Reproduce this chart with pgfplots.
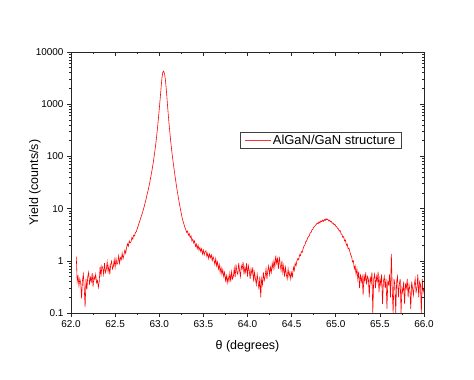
\documentclass[border=0pt]{standalone}
\usepackage{pgfplots}
\pgfplotsset{compat=1.18}
\usepackage{fontspec}
\setmainfont{Liberation Sans}
\pgfplotsset{
  every axis/.append style={
    scale only axis, width=353bp, height=261bp,
    xmin=62, xmax=66, ymin=0.1, ymax=10000,
    axis line style={line width=0.8pt, black!85},
    every tick/.style={black!85, line width=0.6pt},
    major tick length=4bp, minor tick length=2.2bp,
    xtick={62,62.5,...,66}, minor x tick num=1,
    ytick={0.1,1,10,100,1000,10000},
    /pgf/number format/assume math mode=true,
    tick label style={font=\fontsize{10}{12}\selectfont},
  }
}
\begin{document}
\begin{tikzpicture}
\begin{axis}[ymode=log,
  tick align=outside,
  xtick pos=bottom, ytick pos=left,
  xticklabel style={/pgf/number format/fixed, /pgf/number format/fixed zerofill, /pgf/number format/precision=1},
  yticklabels={0.1,1,10,100,1000,10000},
  xlabel={θ (degrees)}, ylabel={Yield (counts/s)},
  label style={font=\fontsize{12.5}{14}\selectfont},
  xlabel style={at={(axis description cs:0.5,0)}, anchor=center, yshift=-33.5bp},
  ylabel style={at={(axis description cs:0,0.5)}, anchor=center, yshift=36bp},
  legend style={at={(0.479,0.693)}, anchor=north west, draw=black!75, line width=0.6pt,
    font=\fontsize{13}{14}\selectfont, inner xsep=4bp, inner ysep=0.5bp, row sep=0pt},
  legend cell align=left,
  legend image code/.code={\draw[red!80!white, line width=0.5pt] (2bp,0bp) -- (28bp,0bp);},
]
\addplot[red, line width=0.6pt] coordinates {
(62.06,1.2) (62.07,0.4) (62.08,0.5) (62.09,0.33) (62.10,0.45) (62.11,0.38) (62.12,0.19) (62.13,0.42) (62.14,0.55) (62.15,0.3)
(62.16,0.13) (62.17,0.45) (62.18,0.28) (62.19,0.5) (62.20,0.6) (62.21,0.35) (62.22,0.48) (62.23,0.4) (62.24,0.58) (62.25,0.32)
(62.26,0.5) (62.27,0.44) (62.28,0.55) (62.29,0.38) (62.30,0.42) (62.31,0.31) (62.32,0.4) (62.33,0.78) (62.34,0.5) (62.35,0.8)
(62.36,0.72) (62.37,0.55) (62.38,0.9) (62.39,0.6) (62.40,0.68) (62.41,0.95) (62.42,0.62) (62.43,0.8) (62.44,0.55) (62.45,0.85)
(62.46,0.98) (62.47,0.7) (62.48,0.78) (62.49,1.05) (62.50,0.75) (62.51,1.1) (62.52,0.85) (62.53,0.92) (62.54,1.25) (62.55,0.9)
(62.56,1.15) (62.57,1.05) (62.58,1.4) (62.59,1.1) (62.60,1.3) (62.61,1.6) (62.62,1.4) (62.63,1.8) (62.64,2.1) (62.65,1.9)
(62.66,2.4) (62.67,2.2) (62.68,2.3) (62.69,2.8) (62.70,2.6) (62.71,3.1) (62.72,3.0) (62.73,3.5) (62.74,3.6) (62.75,4.1)
(62.76,4.6) (62.77,5.2) (62.78,5.8) (62.79,6.6) (62.80,7.4) (62.81,8.4) (62.82,9.6) (62.83,11) (62.84,13) (62.85,15)
(62.86,18) (62.87,21) (62.88,25) (62.89,30) (62.90,37) (62.91,46) (62.92,57) (62.93,72) (62.94,95) (62.95,125)
(62.96,170) (62.97,240) (62.98,350) (62.99,520) (63.00,800) (63.01,1250) (63.02,2000) (63.03,3100) (63.04,4100) (63.05,4300)
(63.06,3800) (63.07,2900) (63.08,1900) (63.09,1150) (63.10,700) (63.11,440) (63.12,290) (63.13,195) (63.14,135) (63.15,97)
(63.16,72) (63.17,54) (63.18,41) (63.19,31) (63.20,24) (63.21,19) (63.22,15) (63.23,12) (63.24,9.8) (63.25,8.0)
(63.26,6.6) (63.27,5.7) (63.28,5.0) (63.29,4.4) (63.30,4.0) (63.31,3.5) (63.32,3.7) (63.33,3.1) (63.34,3.3) (63.35,2.8)
(63.36,3.0) (63.37,2.4) (63.38,2.6) (63.39,2.2) (63.40,2.4) (63.41,1.9) (63.42,2.1) (63.43,1.7) (63.44,2.0) (63.45,1.6)
(63.46,1.8) (63.47,1.5) (63.48,1.7) (63.49,1.35) (63.50,1.6) (63.51,1.3) (63.52,1.5) (63.53,1.55) (63.54,1.2) (63.55,1.4)
(63.56,1.1) (63.57,1.35) (63.58,1.15) (63.59,1.3) (63.60,1.0) (63.61,1.2) (63.62,1.05) (63.63,0.85) (63.64,1.1) (63.65,0.8)
(63.66,0.95) (63.67,0.7) (63.68,0.85) (63.69,0.6) (63.70,0.75) (63.71,0.55) (63.72,0.68) (63.73,0.5) (63.74,0.6) (63.75,0.42)
(63.76,0.52) (63.77,0.38) (63.78,0.5) (63.79,0.4) (63.80,0.58) (63.81,0.4) (63.82,0.62) (63.83,0.45) (63.84,0.5) (63.85,0.72)
(63.86,0.48) (63.87,0.85) (63.88,0.6) (63.89,0.55) (63.90,0.9) (63.91,0.65) (63.92,0.5) (63.93,0.8) (63.94,0.7) (63.95,0.95)
(63.96,0.55) (63.97,0.75) (63.98,0.6) (63.99,0.9) (64.00,0.5) (64.01,0.8) (64.02,0.65) (64.03,0.45) (64.04,0.7) (64.05,0.55)
(64.06,0.75) (64.07,0.4) (64.08,0.6) (64.09,0.45) (64.10,0.35) (64.11,0.55) (64.12,0.4) (64.13,0.28) (64.14,0.5) (64.15,0.2)
(64.16,0.45) (64.17,0.35) (64.18,0.6) (64.19,0.42) (64.20,0.5) (64.21,0.7) (64.22,0.45) (64.23,0.65) (64.24,0.8) (64.25,0.55)
(64.26,0.75) (64.27,0.6) (64.28,0.9) (64.29,0.7) (64.30,1.0) (64.31,0.75) (64.32,1.25) (64.33,0.9) (64.34,1.1) (64.35,0.7)
(64.36,1.2) (64.37,0.85) (64.38,0.65) (64.39,1.0) (64.40,0.6) (64.41,0.8) (64.42,0.5) (64.43,0.75) (64.44,0.55) (64.45,0.45)
(64.46,0.7) (64.47,0.5) (64.48,0.6) (64.49,0.45) (64.50,0.6) (64.51,0.5) (64.52,0.75) (64.53,0.65) (64.54,0.9) (64.55,0.8)
(64.56,1.0) (64.57,1.1) (64.58,1.05) (64.59,1.3) (64.60,1.25) (64.61,1.5) (64.62,1.45) (64.63,1.7) (64.64,1.9) (64.65,2.0)
(64.66,2.3) (64.67,2.4) (64.68,2.7) (64.69,2.9) (64.70,3.0) (64.71,3.4) (64.72,3.5) (64.73,3.9) (64.74,4.0) (64.75,4.4)
(64.76,4.5) (64.77,4.8) (64.78,5.0) (64.79,5.3) (64.80,5.1) (64.81,5.6) (64.82,5.3) (64.83,5.8) (64.84,5.6) (64.85,6.0)
(64.86,5.7) (64.87,6.2) (64.88,5.9) (64.89,6.4) (64.90,6.1) (64.91,6.3) (64.92,5.8) (64.93,6.0) (64.94,5.6) (64.95,5.7)
(64.96,5.2) (64.97,5.3) (64.98,4.9) (64.99,5.0) (65.00,4.6) (65.01,4.5) (65.02,4.2) (65.03,4.1) (65.04,3.7) (65.05,3.8)
(65.06,3.3) (65.07,3.2) (65.08,2.8) (65.09,2.9) (65.10,2.4) (65.11,2.5) (65.12,2.0) (65.13,2.1) (65.14,1.7) (65.15,1.75)
(65.16,1.5) (65.17,1.3) (65.18,1.2) (65.19,0.95) (65.20,1.0) (65.21,0.7) (65.22,0.8) (65.23,0.55) (65.24,0.7) (65.25,0.45)
(65.26,0.62) (65.27,0.3) (65.28,0.55) (65.29,0.4) (65.30,0.5) (65.31,0.22) (65.32,0.55) (65.33,0.4) (65.34,0.6) (65.35,0.35)
(65.36,0.5) (65.37,0.45) (65.38,0.2) (65.39,0.5) (65.40,0.38) (65.41,0.6) (65.42,0.1) (65.43,0.45) (65.44,0.55) (65.45,0.3)
(65.46,0.5) (65.47,0.4) (65.48,0.62) (65.49,0.25) (65.50,0.45) (65.51,0.35) (65.52,0.55) (65.53,0.15) (65.54,0.4) (65.55,0.5)
(65.56,0.3) (65.57,0.45) (65.58,0.12) (65.59,0.4) (65.60,0.35) (65.61,0.55) (65.62,0.2) (65.63,1.35) (65.64,0.3) (65.65,0.1)
(65.66,0.45) (65.67,0.35) (65.68,0.1) (65.69,0.4) (65.70,0.5) (65.71,0.2) (65.72,0.35) (65.73,0.45) (65.74,0.1) (65.75,0.3)
(65.76,0.25) (65.77,0.4) (65.78,0.15) (65.79,0.35) (65.80,0.3) (65.81,0.45) (65.82,0.2) (65.83,0.35) (65.84,0.28) (65.85,0.12)
(65.86,0.4) (65.87,0.3) (65.88,0.22) (65.89,0.35) (65.90,0.45) (65.91,0.25) (65.92,0.3) (65.93,0.55) (65.94,0.2) (65.95,0.4)
(65.96,0.35) (65.97,0.1) (65.98,0.45) (65.99,0.25) (66.00,0.3)
};
\addlegendentry{AlGaN/GaN structure}
\end{axis}
\begin{axis}[ymode=log,
  tick align=inside,
  xtick pos=top, ytick pos=right,
  xticklabels={}, yticklabels={},
]
\end{axis}
\path (current axis.south west) ++(-71bp,-67bp);
\path (current axis.north east) ++(50bp,52bp);
\end{tikzpicture}
\end{document}
